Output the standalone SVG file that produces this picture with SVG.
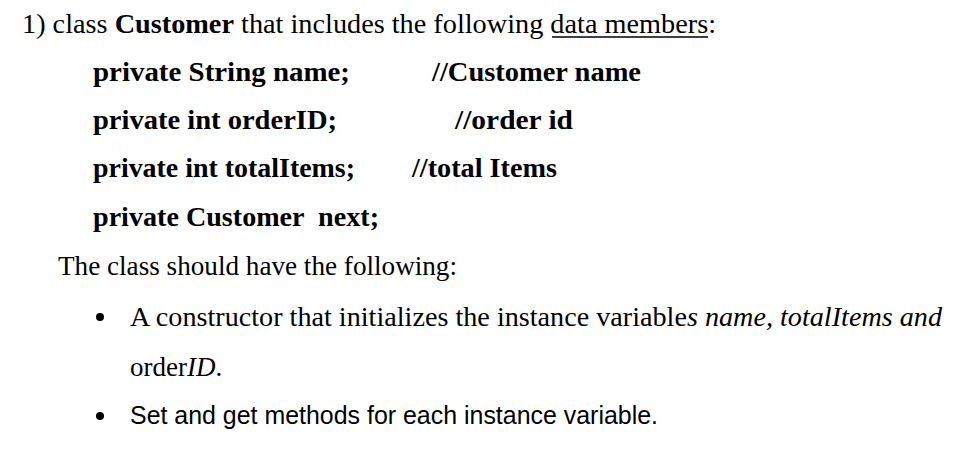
<svg xmlns="http://www.w3.org/2000/svg" width="962" height="452" viewBox="0 0 962 452">
<style>
text{font-family:"Liberation Serif",serif;font-size:27px;fill:#000}
.b{font-weight:bold}
.i{font-style:italic}
.s{font-family:"Liberation Sans",Arial,sans-serif;font-size:25px}
</style>
<rect width="962" height="452" fill="#fff"/>
<g id="heading">
<text x="22" y="33" textLength="694" lengthAdjust="spacingAndGlyphs">1) class <tspan class="b">Customer</tspan> that includes the following data members:</text>
<line x1="552" y1="37" x2="708" y2="37" stroke="#000" stroke-width="1.3"/>
</g>
<g id="members">
<text class="b" x="93" y="81" textLength="257" lengthAdjust="spacingAndGlyphs">private String name;</text>
<text class="b" x="432" y="81" textLength="209" lengthAdjust="spacingAndGlyphs">//Customer name</text>
<text class="b" x="93" y="129" textLength="244" lengthAdjust="spacingAndGlyphs">private int orderID;</text>
<text class="b" x="455" y="129" textLength="118" lengthAdjust="spacingAndGlyphs">//order id</text>
<text class="b" x="93" y="177" textLength="262" lengthAdjust="spacingAndGlyphs">private int totalItems;</text>
<text class="b" x="412" y="177" textLength="145" lengthAdjust="spacingAndGlyphs">//total Items</text>
<text class="b" x="93" y="226" textLength="286" lengthAdjust="spacingAndGlyphs" xml:space="preserve">private Customer  next;</text>
</g>
<g id="requirements">
<text x="58" y="275" textLength="399" lengthAdjust="spacingAndGlyphs">The class should have the following:</text>
<circle cx="100" cy="317" r="4"/>
<text x="130" y="326" textLength="812" lengthAdjust="spacingAndGlyphs">A constructor that initializes the instance variable<tspan class="i">s name, totalItems and</tspan></text>
<text x="130" y="376">order<tspan class="i">ID</tspan>.</text>
<circle cx="100" cy="416" r="4"/>
<text class="s" x="130" y="424" textLength="528" lengthAdjust="spacingAndGlyphs">Set and get methods for each instance variable.</text>
</g>
</svg>
